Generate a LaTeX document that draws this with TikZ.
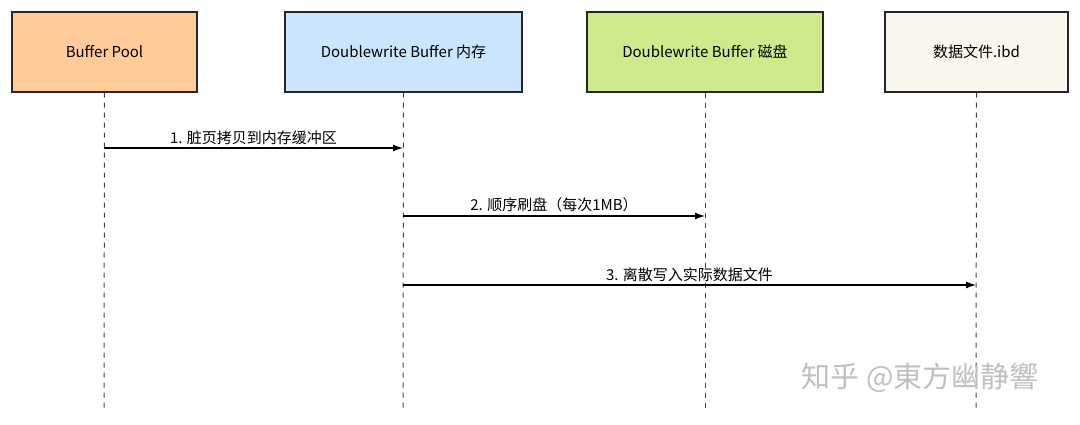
\documentclass[tikz,border=0pt]{standalone}
\usepackage{fontspec}
\setmainfont{Noto Sans CJK SC}[BoldFont={Noto Sans CJK SC Medium}]
\usetikzlibrary{arrows.meta}
\definecolor{cA}{HTML}{FFCC99}
\definecolor{cB}{HTML}{CCE5FF}
\definecolor{cC}{HTML}{CDEB8B}
\definecolor{cD}{HTML}{F9F7ED}
\tikzset{
  box/.style={draw=black!85,line width=1.2pt,minimum height=80pt,inner sep=0pt,font=\fontsize{15}{18}\selectfont},
  life/.style={draw=black!75,line width=1pt,dash pattern=on 5pt off 5pt},
  msg/.style={draw=black,line width=1.3pt,-{Latex[length=10pt,width=7pt]}},
  lbl/.style={font=\fontsize{15}{18}\selectfont,above,inner sep=3pt}
}
\begin{document}
\begin{tikzpicture}[x=1pt,y=-1pt]
\useasboundingbox (0,0) rectangle (1080,425);
\node[box,fill=cA,minimum width=185pt] (bp) at (104.5,52) {Buffer Pool};
\node[box,fill=cB,minimum width=237pt] (dm) at (403.5,52) {Doublewrite Buffer 内存};
\node[box,fill=cC,minimum width=236pt] (dd) at (705,52) {Doublewrite Buffer 磁盘};
\node[box,fill=cD,minimum width=183pt] (df) at (976.5,52) {数据文件.ibd};
\coordinate (bpE) at (104,412);
\coordinate (dmE) at (403,412);
\coordinate (ddE) at (705,412);
\coordinate (dfE) at (976,412);
\draw[life] (bp.south) -- (bpE);
\draw[life] (dm.south) -- (dmE);
\draw[life] (dd.south) -- (ddE);
\draw[life] (df.south) -- (dfE);
\coordinate (a1) at (104,148); \coordinate (b1) at (403,148);
\coordinate (a2) at (403,216); \coordinate (b2) at (705,216);
\coordinate (a3) at (403,285); \coordinate (b3) at (976,285);
\draw[msg] (a1) -- node[lbl] {1. 脏页拷贝到内存缓冲区} (b1);
\draw[msg] (a2) -- node[lbl] {2. 顺序刷盘（每次1MB）} (b2);
\draw[msg] (a3) -- node[lbl] {3. 离散写入实际数据文件} (b3);
\node[text=black!25,font=\fontsize{29}{32}\selectfont] (wm) at (920,378) {知乎 @東方幽静響};
\end{tikzpicture}
\end{document}
